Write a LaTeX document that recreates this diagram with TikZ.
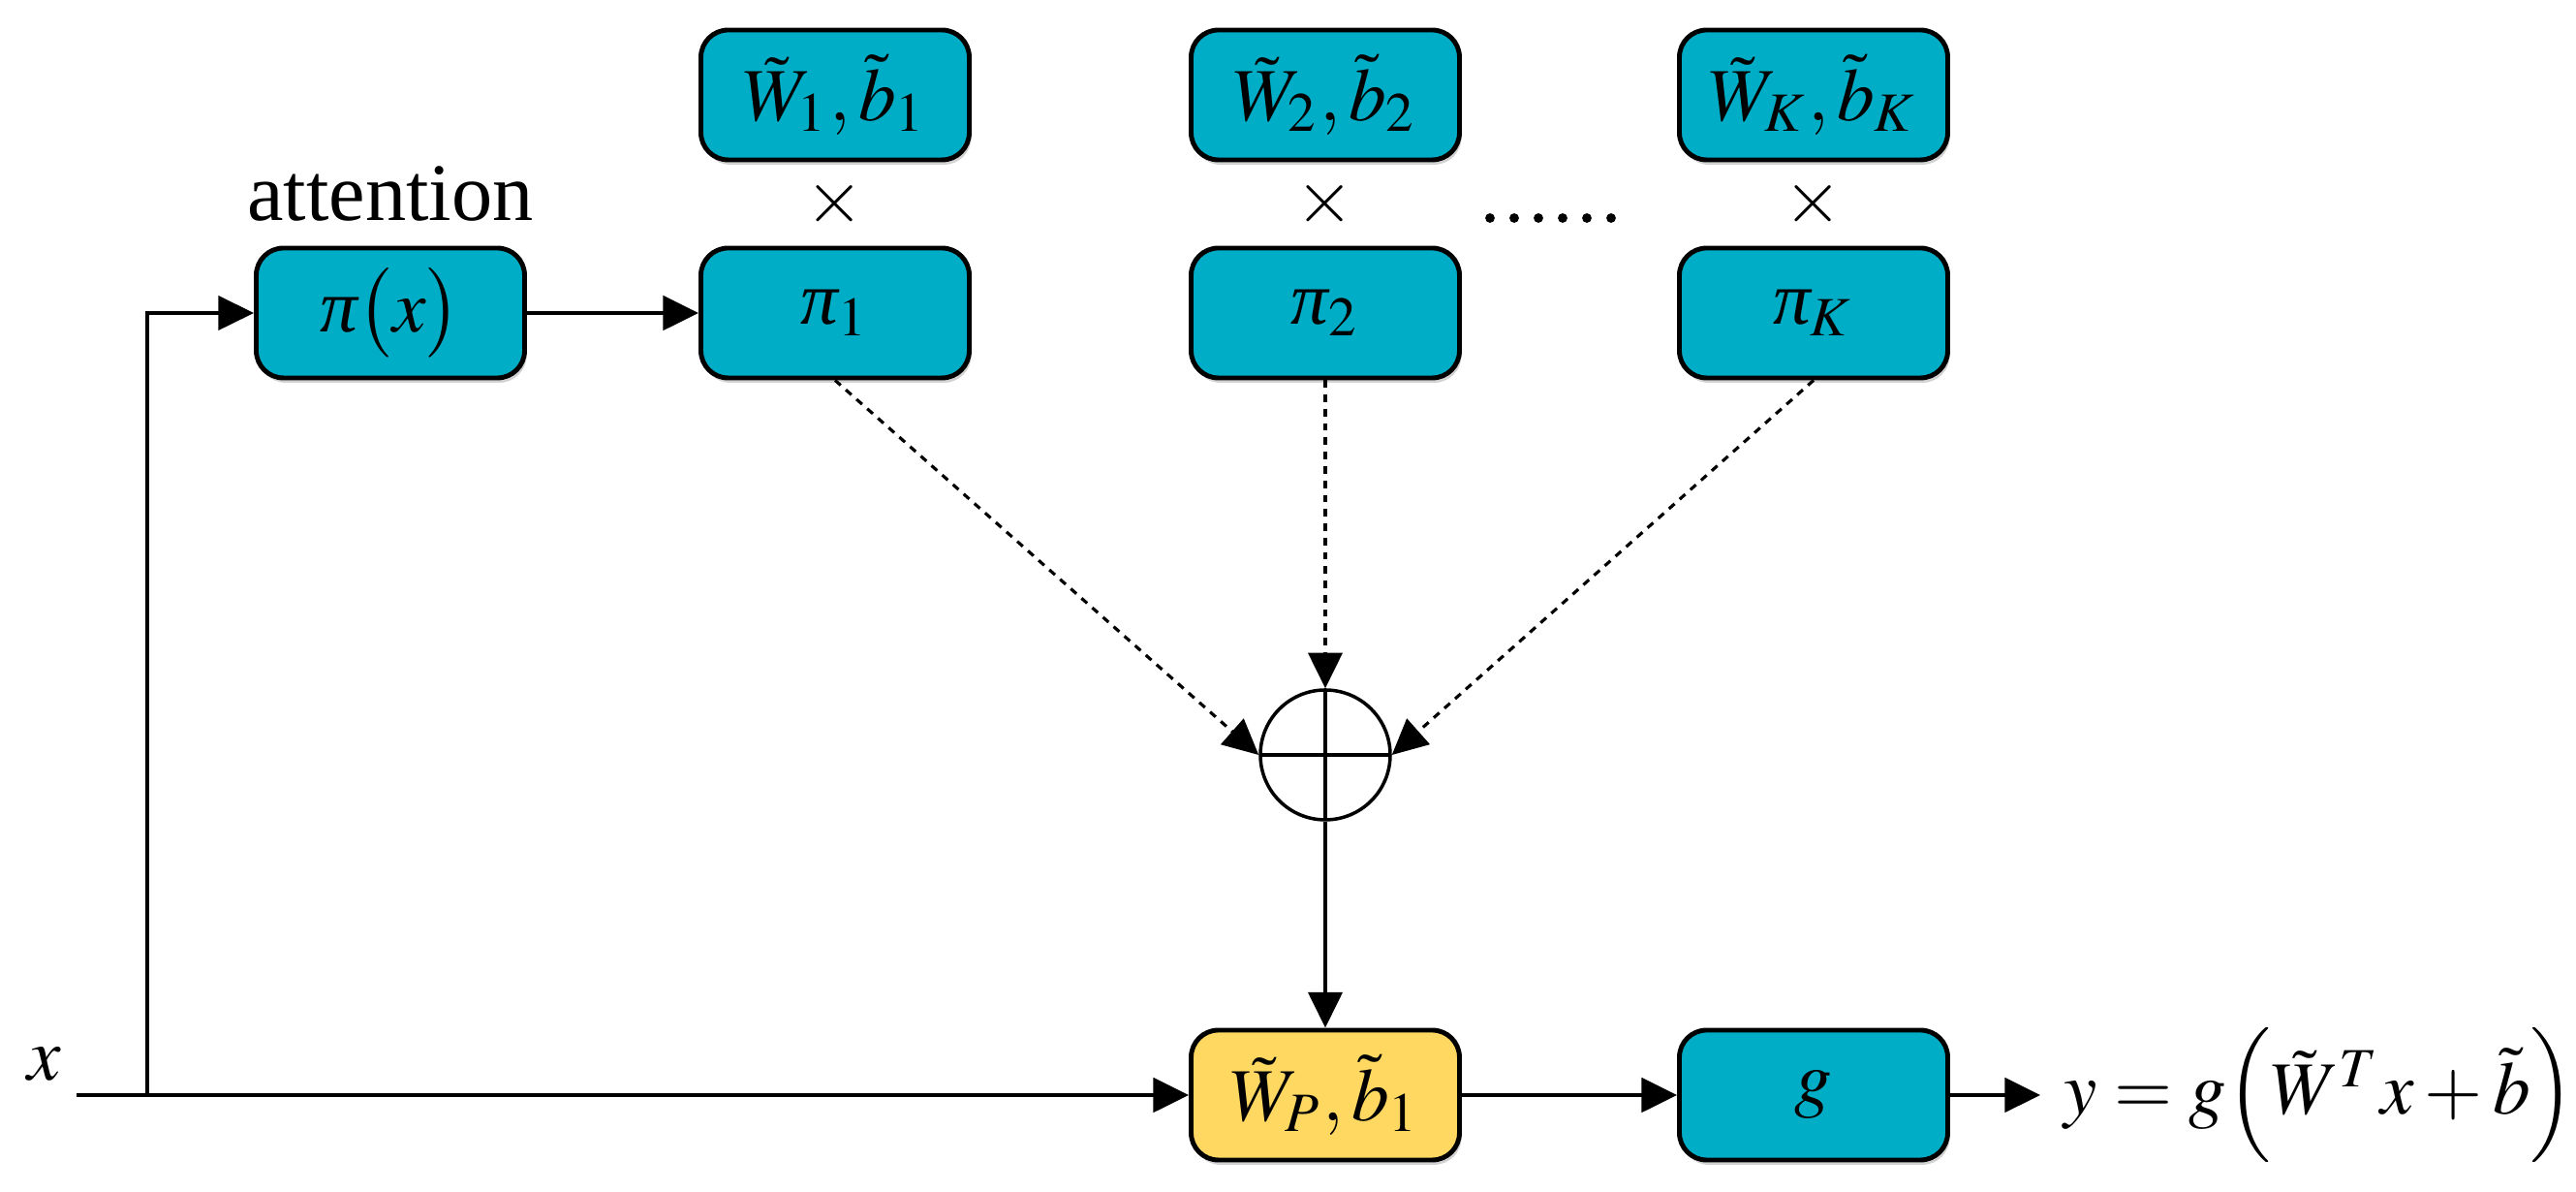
\documentclass[tikz,border=0pt]{standalone}
\usepackage{mathptmx}
\usepackage[no-math]{fontspec}
\setmainfont{Liberation Serif}
\usetikzlibrary{arrows.meta,positioning,shadows}
\definecolor{boxteal}{RGB}{0,173,198}
\definecolor{boxyellow}{RGB}{255,216,98}
\newcommand{\itpi}{\mbox{\itshape π}}

\begin{document}
\begin{tikzpicture}[
	font=\fontsize{11}{13}\selectfont,
	block/.style={draw, line width=0.7pt, rounded corners=4pt, fill=boxteal, minimum width=1.385cm, minimum height=0.67cm, inner sep=0pt,
		drop shadow={shadow xshift=0.3pt, shadow yshift=-0.7pt, fill=black!35}},
	flow/.style={-{Triangle[length=5.2pt,width=5pt]}, line width=0.6pt},
	thinflow/.style={-{Triangle[length=5.2pt,width=5pt]}, line width=0.45pt},
	mix/.style={-{Triangle[length=5.2pt,width=5pt]}, line width=0.45pt, dash pattern=on 1.1pt off 1pt},
	sumnode/.style={circle, draw, line width=0.5pt, minimum size=0.67cm, inner sep=0pt,
		path picture={\draw [line width=0.5pt] (path picture bounding box.north) -- (path picture bounding box.south)
			(path picture bounding box.west) -- (path picture bounding box.east);}}
]
	\useasboundingbox (0,0) rectangle (13.295,6.15);

	\node [block] (pix) at (2.015,4.535) {$\itpi\bigl(x\bigr)$};
	\node [above=0pt of pix, font=\fontsize{12}{14}\selectfont] (attn) {attention};

	\node [block] (pi1) at (4.31,4.535) {$\itpi_{1}$};
	\node [block] (pi2) at (6.84,4.535) {$\itpi_{2}$};
	\node [block] (piK) at (9.36,4.535) {$\itpi_{K}$};

	\node [block] (wb1) at (4.31,5.66) {$\tilde{W}_{1},\tilde{b}_{1}$};
	\node [block] (wb2) at (6.84,5.66) {$\tilde{W}_{2},\tilde{b}_{2}$};
	\node [block] (wbK) at (9.36,5.66) {$\tilde{W}_{K},\tilde{b}_{K}$};

	\node (times1) at (4.31,5.10) {$\times$};
	\node (times2) at (6.84,5.10) {$\times$};
	\node (timesK) at (9.36,5.10) {$\times$};
	\foreach \i in {0,...,5}
		\fill (7.69+0.125*\i,5.025) circle (0.7pt);

	\node [sumnode] (sum) at (6.84,2.255) {};

	\node [block, fill=boxyellow] (wp) at (6.84,0.5) {$\tilde{W}_{P},\tilde{b}_{1}$};
	\node [block] (g) at (9.36,0.5) {$g$};
	\node [anchor=west] (yout) at (10.53,0.5) {$y=g\Bigl(\tilde{W}^{T}x+\tilde{b}\Bigr)$};

	\node (xlbl) at (0.23,0.66) {$x$};
	\coordinate (xin) at (0.395,0.5);
	\coordinate (split) at (0.76,0.5);

	\draw [flow] (xin) -- (wp);
	\draw [thinflow] (split) |- (pix.west);
	\draw [flow] (pix) -- (pi1);
	\draw [mix] (pi1.south) -- (sum.west);
	\draw [mix] (pi2.south) -- (sum.north);
	\draw [mix] (piK.south) -- (sum.east);
	\draw [thinflow] (sum.south) -- (wp.north);
	\draw [flow] (wp) -- (g);
	\draw [flow] (g) -- (yout.west);
\end{tikzpicture}
\end{document}
